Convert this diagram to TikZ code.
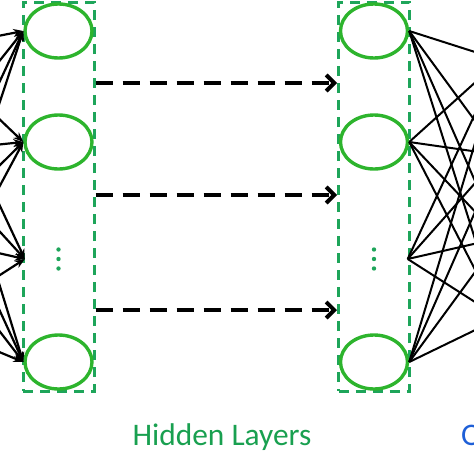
\documentclass[tikz,border=0pt]{standalone}
\usepackage{fontspec}
\setmainfont{Carlito}
\usetikzlibrary{shapes.geometric,arrows.meta}
\definecolor{nodegreen}{RGB}{45,180,45}
\definecolor{boxgreen}{RGB}{30,165,90}
\definecolor{textgreen}{RGB}{25,160,80}
\definecolor{outblue}{RGB}{30,95,215}
\tikzset{
    neuron/.style={ellipse, draw=nodegreen, line width=3.4pt, minimum width=67pt, minimum height=54pt, inner sep=0pt},
    blank/.style={ellipse, minimum width=67pt, minimum height=54pt, inner sep=0pt},
    layerbox/.style={draw=boxgreen, line width=3pt, dash pattern=on 10pt off 7pt, minimum width=71pt, minimum height=389pt, inner sep=0pt},
    feed/.style={-{Stealth[length=10pt,width=8pt]}, line width=2.2pt},
    wire/.style={line width=2pt},
    skip/.style={-{Straight Barb[length=8pt,width=16pt]}, line width=4pt, dash pattern=on 17pt off 10pt},
    caption/.style={font=\fontsize{31.4}{36}\selectfont, inner sep=0pt}
}
\begin{document}
\begin{tikzpicture}[x=1pt,y=-1pt]
                    \useasboundingbox (0,0) rectangle (474,474);
                    \clip (0,0) rectangle (474,474);
                    \foreach \y [count=\i] in {50,152,237,322} \coordinate (in\i) at (-73,\y);
                    \foreach \y [count=\i] in {60,155,238,318} \coordinate (out\i) at (500,\y);
                    \node[layerbox] (boxA) at (58.5,196.5) {};
                    \node[layerbox] (boxB) at (374,196.5) {};
                    \foreach \y/\s [count=\i] in {31/neuron,142/neuron,259/blank,362/neuron} {
                        \node[\s] (hA\i) at (58.5,\y) {};
                        \node[\s] (hB\i) at (374,\y) {};
                    }
                    \foreach \n in {hA3,hB3}
                        \foreach \d in {-9.5,0,9.5}
                            \fill[boxgreen] ([yshift=\d pt]\n.center) circle (2.2pt);
                    \foreach \i in {1,...,4}
                        \foreach \j in {1,...,4} {
                            \draw[feed] (in\i) -- (hA\j.west);
                            \draw[wire] (hB\j.east) -- (out\i);
                        }
                    \foreach \y in {83,195,310}
                        \draw[skip] (boxA.east |- 0,\y) -- (boxB.west |- 0,\y);
                    \node[caption, text=textgreen, anchor=base] (hidlab) at (222,445) {Hidden Layers};
                    \node[caption, text=outblue, anchor=base west] (outlab) at (461,445) {Output Layer};
                \end{tikzpicture}
\end{document}
